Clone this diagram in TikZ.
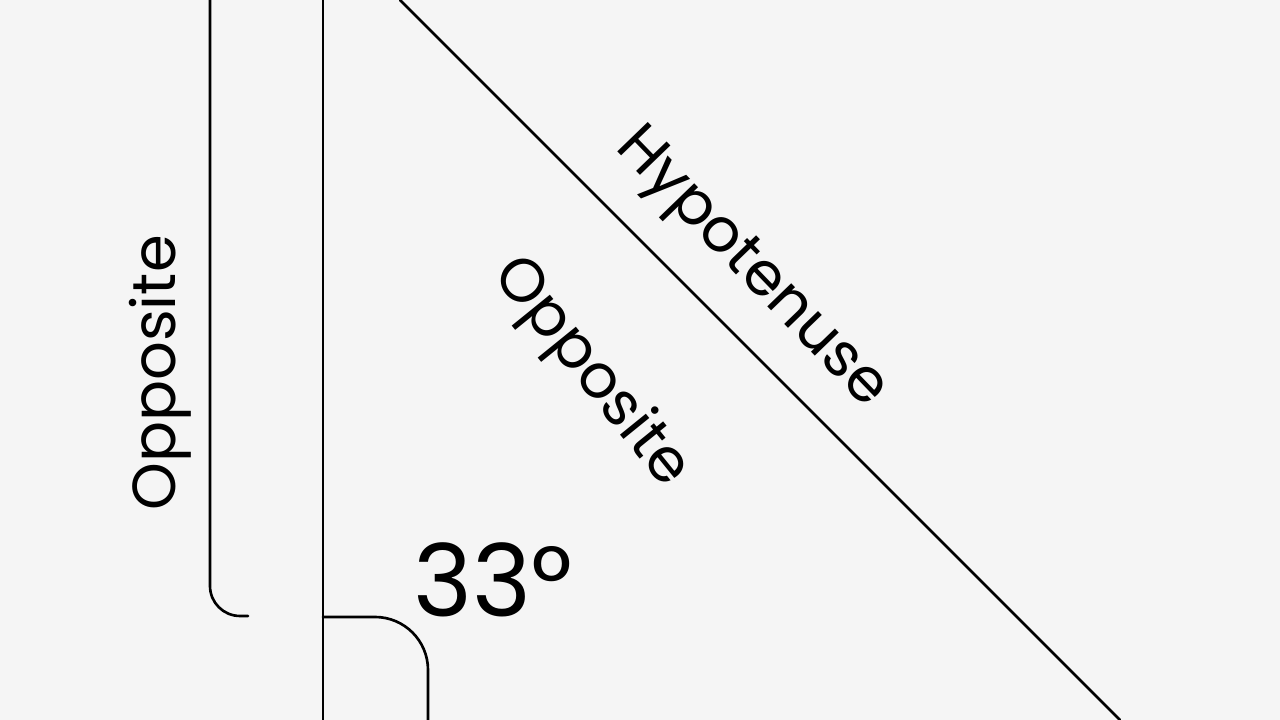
\documentclass[tikz,border=0pt]{standalone}
\usepackage{fontspec}
\setmainfont{Poppins}
\definecolor{paper}{RGB}{245,245,245}
\begin{document}
\begin{tikzpicture}[line join=round,line cap=round,line width=.75pt,
  lbl/.style={font=\fontsize{17.3}{17.3}\selectfont,inner sep=0pt}]
\def\W{12.8} \def\H{7.2}
\fill[paper] (0,0) rectangle (\W,\H);
\useasboundingbox (0,0) rectangle (\W,\H);
% triangle sides
\coordinate (top) at (3.23,\H);
\coordinate (foot) at (3.23,0);
\coordinate (hyptop) at (4.0,\H);
\coordinate (hypbot) at (11.2,0);
\draw (top)--(foot);
\draw (hyptop)--(hypbot);
% bracket and right angle mark
\draw[rounded corners=.3cm] (2.10,\H)--(2.10,1.04)--(2.48,1.04);
\draw[rounded corners=.53cm] (3.23,1.03)--(4.28,1.03)--(4.28,0);
% labels
\node[lbl,rotate=90] (oppL) at (1.60,3.47) {Opposite};
\node[lbl,rotate=-51] (oppM) at (5.90,3.47) {Opposite};
\node[lbl,rotate=-46] (hyp) at (7.50,4.50) {Hypotenuse};
\node[font=\fontsize{28.5}{28.5}\selectfont,inner sep=0pt] (ang) at (4.93,1.40) {33°};
\end{tikzpicture}
\end{document}
